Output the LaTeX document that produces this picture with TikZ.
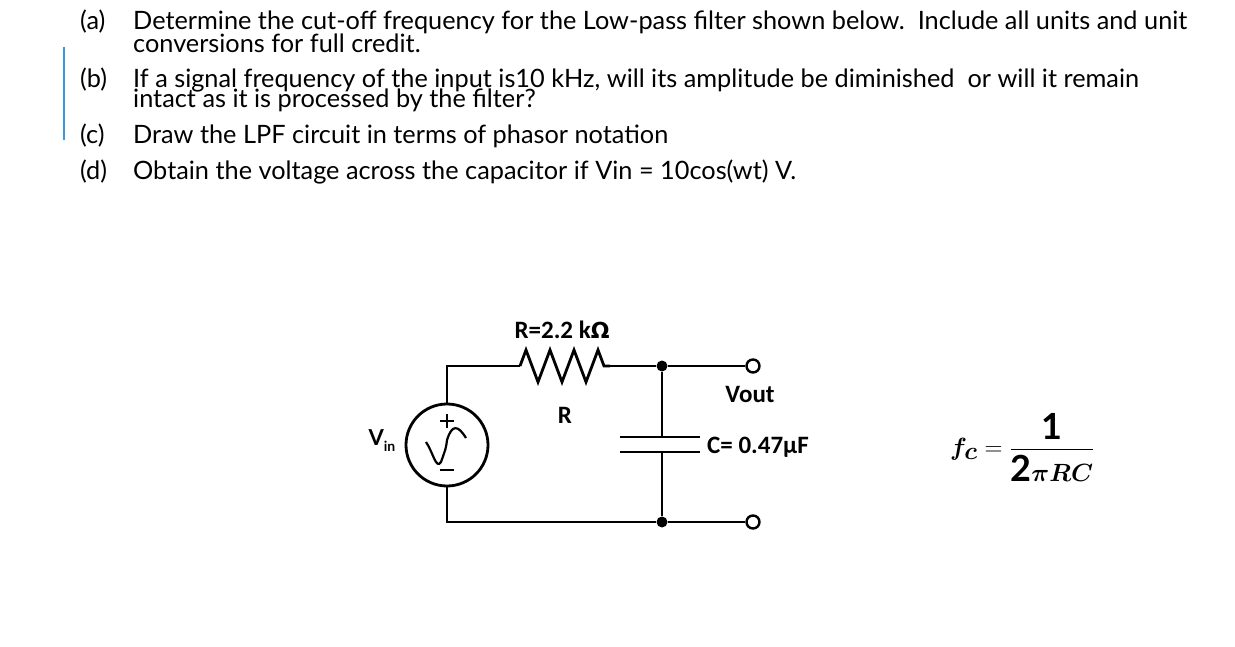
\documentclass[tikz,border=0pt]{standalone}
\usepackage{amsmath,amssymb,bm}
\usepackage{fontspec}
\setmainfont{Lato}
\newfontfamily\carlfont{Carlito}
\newfontfamily\dv{DejaVu Sans}
\begin{document}
\begin{tikzpicture}[x=1pt,y=-1pt,
  txt/.style={anchor=west,inner sep=0,font=\fontsize{25.3}{25}\selectfont},
  lbl/.style={inner sep=0,font=\carlfont\bfseries\fontsize{25}{25}\selectfont},
  wire/.style={line width=2.8pt},
  dotn/.style={circle,fill=black,inner sep=0,minimum size=11pt},
  term/.style={circle,draw,line width=2.4pt,fill=white,inner sep=0,minimum size=13pt}]
\useasboundingbox (0,0) rectangle (1235,647);
\draw[cyan!70!blue!80,line width=1.8pt] (64,47) -- (64,140);
\node[txt] (la) at (80,22) {(a)}; \node[txt] (ta) at (133,22) {Determine the cut-off frequency for the Low-pass filter shown below.\ \ Include all units and unit};
\node[txt] (ta2) at (133,43) {conversions for full credit.};
\node[txt] (lb) at (80,80) {(b)}; \node[txt] (tb) at (133,80) {If a signal frequency of the input is10 kHz, will its amplitude be diminished\ \ or will it remain};
\node[txt] (tb2) at (133,100) {intact as it is processed by the filter?};
\node[txt] (lc) at (80,136) {(c)}; \node[txt] (tc) at (133,136) {Draw the LPF circuit in terms of phasor notation};
\node[txt] (ld) at (80,172) {(d)}; \node[txt] (td) at (133,172) {Obtain the voltage across the capacitor if Vin = 10cos(wt) V.};
% circuit
\node[circle,draw,line width=2.8pt,minimum size=82pt,inner sep=0] (src) at (447,445) {};
\coordinate (tl) at (447,366); \coordinate (bl) at (447,522);
\coordinate (r1) at (520,366); \coordinate (r2) at (610,366);
\node[dotn] (jt) at (662,366) {}; \node[dotn] (jb) at (662,522) {};
\node[term] (ot) at (753,366) {}; \node[term] (ob) at (753,522) {};
\coordinate (p1) at (662,437); \coordinate (p2) at (662,452);
\draw[wire] (src.north) -- (tl) -- (r1);
\draw[wire,line join=miter] (r1) -- (526,350) -- (538,382) -- (550,350) -- (562,382) -- (574,350) -- (586,382) -- (598,350) -- (604,366) -- (r2);
\draw[wire] (r2) -- (jt) -- (ot);
\draw[wire] (src.south) -- (bl) -- (jb) -- (ob);
\draw[wire] (jt) -- (p1); \draw[wire] (p2) -- (jb);
\draw[wire] (620,437) -- (700,437); \draw[wire] (620,452) -- (700,452);
\draw[line width=2pt] (440,421) -- (454,421) (447,414) -- (447,428) (440,470) -- (454,470);
\draw[line width=2.2pt] (426,442) .. controls (433,452) and (436,470) .. (441,462) .. controls (446,448) .. (447,440) .. controls (452,424) and (458,425) .. (466,438);
\node[lbl] (rv) at (562,330) {R=2.2 k\dv\bfseries\fontsize{22}{22}\selectfont Ω};
\node[lbl] (rn) at (565,415) {R};
\node[lbl] (vo) at (750,394) {Vout};
\node[lbl,anchor=west] (cv) at (707,447) {C= 0.47µF};
\node[inner sep=0,font=\fontsize{22}{22}\selectfont] (vin) at (382,441) {\rmfamily\bfseries V\raisebox{-6pt}{\fontsize{14}{14}\selectfont in}};
\node[inner sep=0,font=\fontsize{36}{36}\selectfont,anchor=west] (fc) at (950,447) {$\bm{f_c}=\dfrac{\mathbf{1}}{\mathbf{2}\bm{\pi}\bm{RC}}$};
\end{tikzpicture}
\end{document}
